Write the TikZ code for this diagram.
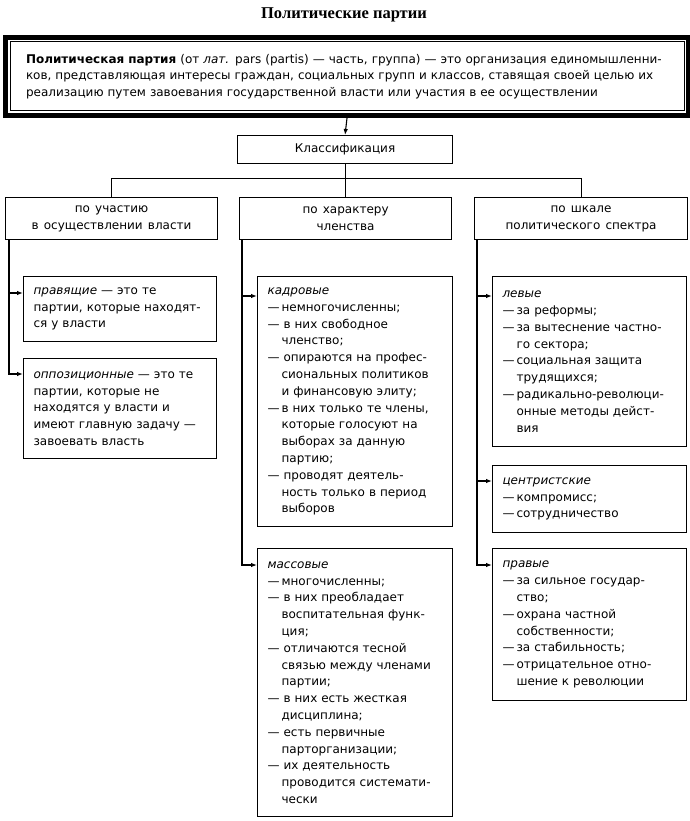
\documentclass[tikz,border=0pt]{standalone}
\usepackage{fontspec}
\setmainfont{DejaVu Sans}[WordSpace=1.35]
\newfontfamily\titlefont{Liberation Serif}
\usetikzlibrary{arrows.meta,calc}
\newcommand\ind{\hspace*{14pt}}
\newcommand\dd{—\thinspace}
\newcommand\jline[1]{\leavevmode\hbox to 642pt{#1}}
\begin{document}
\begin{tikzpicture}[x=1pt,y=-1pt, font=\fontsize{12}{16.8}\selectfont,
 box/.style={draw, line width=1.1pt, anchor=north west, inner xsep=10pt, inner ysep=4pt, align=left, minimum width=195pt, text width=175pt},
 catbox/.style={draw, line width=1.1pt, anchor=north west, inner sep=0pt, align=center},
 conn/.style={line width=1.1pt},
 arr/.style={line width=1.1pt, -{Latex[length=6pt,width=4.5pt]}}]
\useasboundingbox (0,0) rectangle (689,821);
\node[font=\titlefont\bfseries\fontsize{16.5}{19}\selectfont] (title) at (344,15) {Политические партии};
\node[draw, line width=5pt, anchor=north west, minimum width=683pt, minimum height=78pt, text width=642pt, inner xsep=20.5pt, align=left] (def) at (3,35)
 {\jline{\textbf{Политическая партия} (от \textit{лат.} pars (partis) — часть, группа) — это организация единомышленни-}\\
  \jline{ков, представляющая интересы граждан, социальных групп и классов, ставящая своей целью их}\\
  реализацию путем завоевания государственной власти или участия в ее осуществлении};
\draw[line width=1pt] ($(def.north west)+(7,7)$) rectangle ($(def.south east)+(-7,-7)$);
\node[catbox, minimum width=215pt, minimum height=28pt] (klass) at (237,135) {Классификация};
\node[catbox, minimum width=212pt, minimum height=42pt] (cat1) at (5,197) {по участию\\в осуществлении власти};
\node[catbox, minimum width=212pt, minimum height=42pt] (cat2) at (239,197) {по характеру\\членства};
\node[catbox, minimum width=213pt, minimum height=42pt] (cat3) at (474,197) {по шкале\\политического спектра};
\draw[arr] (def.south) -- (klass.north);
\coordinate (bus) at ($(klass.south)+(0,14)$);
\draw[conn] (klass.south) -- (bus);
\draw[conn] (cat1.north) |- (bus) -| (cat3.north);
\draw[conn] (cat2.north) -- (cat2.north |- bus);
% left column
\node[box, minimum width=193pt, text width=173pt, minimum height=65pt] (prav) at (23,276)
 {\textit{правящие} — это те\\партии, которые находят-\\ся у власти};
\node[box, minimum width=193pt, text width=173pt, minimum height=100pt] (opp) at (23,358)
 {\textit{оппозиционные} — это те\\партии, которые не\\находятся у власти и\\имеют главную задачу —\\завоевать власть};
% middle column
\node[box, minimum height=250pt] (kadr) at (257,276)
 {\textit{кадровые}\\
  \dd немногочисленны;\\
  — в них свободное\\
  \ind членство;\\
  — опираются на профес-\\
  \ind сиональных политиков\\
  \ind и финансовую элиту;\\
  \dd в них только те члены,\\
  \ind которые голосуют на\\
  \ind выборах за данную\\
  \ind партию;\\
  — проводят деятель-\\
  \ind ность только в период\\
  \ind выборов};
\node[box, minimum height=268pt] (mass) at (257,548)
 {\textit{массовые}\\
  \dd многочисленны;\\
  — в них преобладает\\
  \ind воспитательная функ-\\
  \ind ция;\\
  — отличаются тесной\\
  \ind связью между членами\\
  \ind партии;\\
  — в них есть жесткая\\
  \ind дисциплина;\\
  — есть первичные\\
  \ind парторганизации;\\
  — их деятельность\\
  \ind проводится системати-\\
  \ind чески};
% right column
\node[box, minimum width=194pt, text width=174pt, minimum height=170pt] (lev) at (492,276)
 {\textit{левые}\\
  \dd за реформы;\\
  \dd за вытеснение частно-\\
  \ind го сектора;\\
  \dd социальная защита\\
  \ind трудящихся;\\
  \dd радикально-революци-\\
  \ind онные методы дейст-\\
  \ind вия};
\node[box, minimum width=194pt, text width=174pt, minimum height=67pt] (centr) at (492,465)
 {\textit{центристские}\\
  \dd компромисс;\\
  \dd сотрудничество};
\node[box, minimum width=194pt, text width=174pt, minimum height=152pt] (prav2) at (492,548)
 {\textit{правые}\\
  \dd за сильное государ-\\
  \ind ство;\\
  \dd охрана частной\\
  \ind собственности;\\
  \dd за стабильность;\\
  \dd отрицательное отно-\\
  \ind шение к революции};
% connectors
\coordinate (c1) at ($(cat1.south west)+(4,0)$);
\coordinate (c2) at ($(cat2.south west)+(3,0)$);
\coordinate (c3) at ($(cat3.south west)+(3,0)$);
\coordinate (pravin) at ($(prav.north west)+(0,17)$);
\coordinate (oppin) at ($(opp.north west)+(0,16)$);
\coordinate (kadrin) at ($(kadr.north west)+(0,20)$);
\coordinate (massin) at ($(mass.north west)+(0,17)$);
\coordinate (levin) at ($(lev.north west)+(0,20)$);
\coordinate (centrin) at ($(centr.north west)+(0,16)$);
\coordinate (prav2in) at ($(prav2.north west)+(0,17)$);
\draw[arr] (c1) |- (pravin);
\draw[arr] (c1) |- (oppin);
\draw[arr] (c2) |- (kadrin);
\draw[arr] (c2) |- (massin);
\draw[arr] (c3) |- (levin);
\draw[arr] (c3) |- (centrin);
\draw[arr] (c3) |- (prav2in);
\end{tikzpicture}
\end{document}
